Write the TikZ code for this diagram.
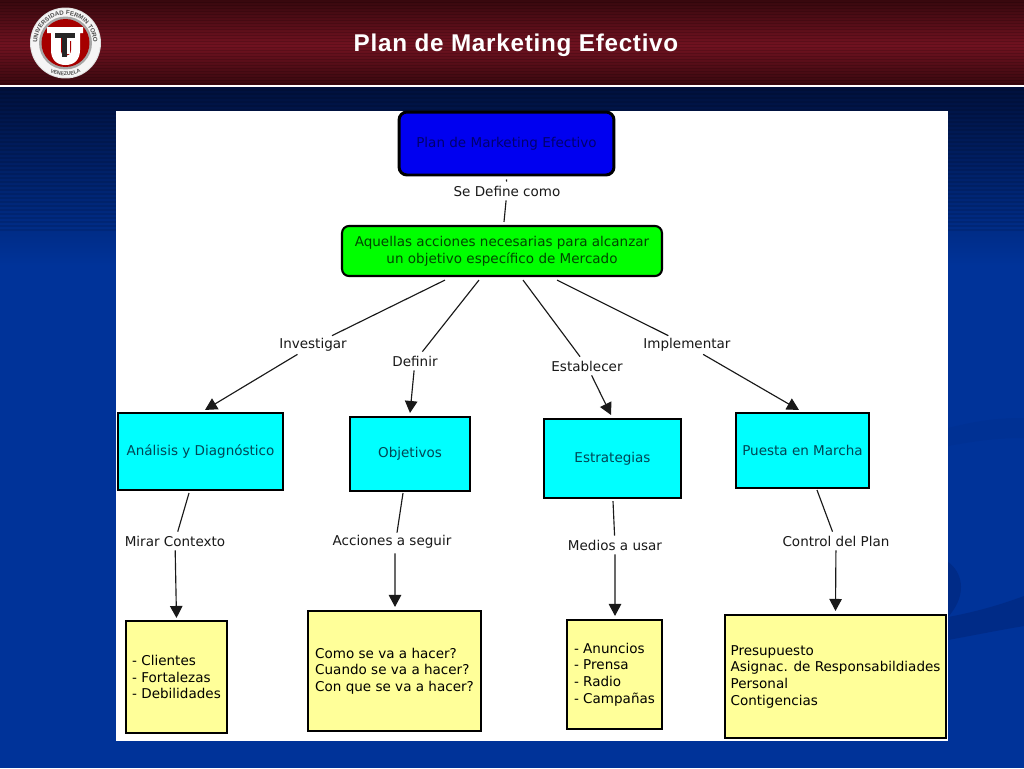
\documentclass[tikz,border=0pt]{standalone}
\usepackage{fontspec}
\setmainfont{DejaVu Sans}
\newfontfamily\titlefont[LetterSpace=3]{Liberation Sans}
\newfontfamily\logofont{Liberation Sans}
\usetikzlibrary{positioning,arrows.meta,calc,decorations.text}
\definecolor{fondo}{RGB}{0,51,153}
\definecolor{fondoalto}{RGB}{0,16,60}
\definecolor{banda}{RGB}{0,43,135}
\definecolor{vino}{RGB}{112,18,32}
\definecolor{vinoosc}{RGB}{56,8,14}
\definecolor{celeste}{RGB}{0,255,255}
\definecolor{verdebox}{RGB}{0,255,0}
\definecolor{azulbox}{RGB}{0,0,240}
\definecolor{amarillo}{RGB}{255,255,153}
\definecolor{textoazul}{RGB}{0,0,110}
\definecolor{textocian}{RGB}{0,70,85}
\definecolor{textoverde}{RGB}{0,70,0}
\tikzset{
  caja/.style={draw=black,line width=1.2pt,rectangle,align=center,inner sep=0pt,text=textocian,fill=celeste},
  notabox/.style={caja,fill=amarillo,align=left,text=black},
  etiqueta/.style={inner xsep=0pt,inner ysep=0pt,minimum height=0.36cm,text=black!90},
  enlace/.style={line width=0.65pt,black!90},
  flecha/.style={enlace,-{Triangle[length=2.4mm,width=2.5mm]}}
}
\begin{document}
\begin{tikzpicture}[x=0.02cm,y=-0.02cm,every node/.style={font=\fontsize{7.7}{9.5}\selectfont}]
\useasboundingbox (0,0) rectangle (1024,768);
\fill[fondo] (0,0) rectangle (1024,768);
\shade[top color=fondoalto,bottom color=fondo] (0,86) rectangle (1024,265);
\foreach \y in {90,94,...,230} \draw[black,opacity=0.10,line width=0.8pt] (0,\y) -- (1024,\y);
\fill[banda!30!fondo] (948,428) .. controls (980,420) and (1000,418) .. (1024,418) -- (1024,438) .. controls (1000,438) and (980,440) .. (948,446) -- cycle;
\fill[banda] (948,562) .. controls (960,570) and (970,592) .. (948,617) -- cycle;
\fill[banda] (948,617) .. controls (975,612) and (1000,605) .. (1024,596) -- (1024,626) .. controls (1000,630) and (975,635) .. (948,640) -- cycle;
\shade[top color=vinoosc,bottom color=vino] (0,0) rectangle (1024,45);
\shade[top color=vino,bottom color=vinoosc] (0,45) rectangle (1024,85);
\foreach \y in {2,5,...,83} \draw[black,opacity=0.14,line width=0.5pt] (0,\y) -- (1024,\y);
\fill[white] (0,85) rectangle (1024,86.5);
\fill[white] (116,111) rectangle (948,741);
\fill[gray!25] (65.5,43) circle (0.71cm);
\fill[white!92!gray] (65.5,43) circle (0.69cm);
\path[decorate,decoration={text along path,text align=center,text color=black!70,text={|\logofont\bfseries\fontsize{3.5}{4}\selectfont|UNIVERSIDAD FERMIN TORO}}] (39,52.6) arc[start angle=200,end angle=-20,radius=0.56cm];
\path[decorate,decoration={text along path,text align=center,text color=black!70,text={|\logofont\bfseries\fontsize{3}{4}\selectfont|VENEZUELA}}] (46.6,70) arc[start angle=235,end angle=305,radius=0.66cm];
\fill[gray!70] (65.5,43) circle (0.53cm);
\fill[red!65!black] (65.5,43) circle (0.48cm);
\fill[white] (47,27) -- (83,27) -- (83,33) -- (80,33) -- (80,50) .. controls (80,60) and (74,65) .. (65.5,65) .. controls (57,65) and (51,60) .. (51,50) -- (51,33) -- (47,33) -- cycle;
\fill[red!65!black] (61,33) -- (71,33) -- (71,50) .. controls (71,54) and (68,56) .. (65.5,56) .. controls (63,56) and (61,54) .. (61,50) -- cycle;
\fill[gray!30!black] (55,33) rectangle (75,38);
\fill[gray!30!black] (61.5,38) rectangle (67,57);
\fill[white] (67,38) rectangle (73,41);
\fill[white] (67,38) rectangle (70,54);
\node[font=\titlefont\bfseries\fontsize{13.8}{16}\selectfont,text=white] (titulo) at (516,45) {Plan de Marketing Efectivo};
\node[caja,fill=azulbox,rounded corners=1.6mm,line width=1.7pt,text=textoazul,minimum width=4.3cm,minimum height=1.26cm] (plan) at (506.5,143.5) {Plan de Marketing Efectivo};
\node[caja,fill=verdebox,rounded corners=1.4mm,text=textoverde,minimum width=6.4cm,minimum height=1cm] (accion) at (502,251) {Aquellas acciones necesarias para alcanzar\\un objetivo específico de Mercado};
\node[caja,minimum width=3.3cm,minimum height=1.54cm] (analisis) at (200.5,451.5) {Análisis y Diagnóstico};
\node[caja,minimum width=2.4cm,minimum height=1.48cm] (objetivos) at (410,454) {Objetivos};
\node[caja,minimum width=2.74cm,minimum height=1.58cm] (estrategias) at (612.5,458.5) {Estrategias};
\node[caja,minimum width=2.66cm,minimum height=1.5cm] (puesta) at (802.5,450.5) {Puesta en Marcha};
\node[notabox,minimum width=2.02cm,minimum height=2.24cm] (clientes) at (176.5,677) {- Clientes\\- Fortalezas\\- Debilidades};
\node[notabox,minimum width=3.46cm,minimum height=2.4cm] (preguntas) at (394.5,671) {Como se va a hacer?\\Cuando se va a hacer?\\Con que se va a hacer?};
\node[notabox,minimum width=1.9cm,minimum height=2.18cm] (medios) at (614.5,674.5) {- Anuncios\\- Prensa\\- Radio\\- Campañas};
\node[notabox,minimum width=4.42cm,minimum height=2.46cm] (presupuesto) at (835.5,676.5) {Presupuesto\\Asignac. de Responsabildiades\\Personal\\Contigencias};
\node[etiqueta] (sedefine) at (507,191) {Se Define como};
\node[etiqueta] (investigar) at (313,345) {Investigar};
\node[etiqueta] (definir) at (415,361) {Definir};
\node[etiqueta] (establecer) at (587,366) {Establecer};
\node[etiqueta] (implementar) at (687,345) {Implementar};
\node[etiqueta] (mirar) at (175,541) {Mirar Contexto};
\node[etiqueta] (acciones) at (392,542) {Acciones a seguir};
\node[etiqueta] (usar) at (615,545) {Medios a usar};
\node[etiqueta] (control) at (836,541) {Control del Plan};
\draw[enlace] ($(plan.south)+(0,3)$) -- (sedefine);
\draw[enlace] (sedefine) -- ($(accion.north)+(2,-3)$);
\draw[enlace] ($(accion.south)+(-57,3)$) -- (investigar);
\draw[flecha] (investigar) -- ($(analisis.north)+(4.5,-2)$);
\draw[enlace] ($(accion.south)+(-23,3)$) -- (definir);
\draw[flecha] (definir) -- ($(objetivos.north)+(0,-3)$);
\draw[enlace] ($(accion.south)+(21,3)$) -- (establecer);
\draw[flecha] (establecer) -- ($(estrategias.north)+(-1.5,-3)$);
\draw[enlace] ($(accion.south)+(55,3)$) -- (implementar);
\draw[flecha] (implementar) -- ($(puesta.north)+(-3.5,-2)$);
\draw[enlace] ($(analisis.south)+(-11.5,2)$) -- (mirar);
\draw[flecha] (mirar) -- ($(clientes.north)+(0,-2)$);
\draw[enlace] ($(objetivos.south)+(-7,1)$) -- ($(acciones.north)+(5,0)$);
\draw[flecha] ($(acciones.south)+(3,2)$) -- ($(preguntas.north)+(0.5,-3)$);
\draw[enlace] ($(estrategias.south)+(0.5,2)$) -- (usar);
\draw[flecha] (usar) -- ($(medios.north)+(0.5,-3)$);
\draw[enlace] ($(puesta.south)+(14.5,1)$) -- (control);
\draw[flecha] (control) -- ($(presupuesto.north)+(0,-3)$);
\end{tikzpicture}
\end{document}
